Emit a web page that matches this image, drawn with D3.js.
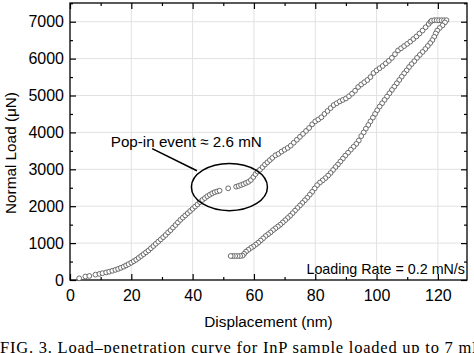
<!DOCTYPE html>
<html><head><meta charset="utf-8">
<script src="https://cdn.jsdelivr.net/npm/d3@7"></script>
<style>
html,body{margin:0;padding:0;background:#fff;}
svg{display:block;}
</style></head>
<body>
<script>
// ---- data ----
const loadDisp = [3.0,5.0,6.3,8.3,9.6,10.6,11.8,12.8,13.8,14.8,15.7,16.6,17.5,18.3,19.1,20.0,20.8,21.6,22.4,23.2,24.0,24.8,25.6,26.4,27.2,28.0,28.8,29.6,30.4,31.2,32.0,32.8,33.6,34.4,35.2,36.0,36.8,37.6,38.4,39.2,40.0,40.8,41.6,42.4,43.2,44.0,44.8,45.6,46.4,47.2,48.0,48.8,51.6,54.2,55.0,55.8,56.6,57.4,58.2,59.0,59.8,60.5,61.2,62.0,62.8,63.6,64.4,65.2,66.0,67,68,69,70,71,72,73,74,75,76,77,78,79,80,81,82,83,84,85,86,87,88,89,90,91,92,93,94,95,96,97,98,99,100,101,102,103,104,105,106,107,108,109,110,111,112,113,114,115,116,117,117.6,118.0,118.8,119.6,120.4,121.2,122.0,122.8];
const loadForce = [45,95,110,145,165,185,205,225,250,275,300,330,360,395,430,470,510,550,600,650,700,750,800,860,920,980,1040,1100,1160,1220,1290,1350,1420,1490,1560,1630,1690,1750,1810,1870,1930,1990,2050,2110,2170,2220,2270,2310,2350,2380,2400,2420,2485,2530,2550,2575,2600,2630,2660,2710,2790,2870,2940,2990,3060,3130,3190,3250,3310,3380,3420,3480,3530,3580,3640,3720,3800,3880,3960,4040,4120,4220,4300,4350,4410,4500,4580,4660,4740,4790,4840,4880,4920,4980,5050,5130,5230,5300,5360,5420,5500,5610,5680,5740,5800,5870,5940,6020,6120,6220,6280,6340,6400,6460,6530,6600,6680,6760,6850,6940,7000,7030,7040,7040,7040,7040,7040,7040];
const unloadDisp = [122.3,121.5,120.6,119.8,119.3,118.8,118.2,117.5,116.7,115.9,115.0,114.1,113.2,112.3,111.4,110.6,109.8,109.0,108.2,107.4,106.6,105.8,105.0,104.2,103.4,102.6,101.8,101.0,100.2,99.5,98.8,98.0,97.3,96.5,95.8,95.0,94.2,93.4,92.5,91.6,90.7,89.8,89.0,88.2,87.4,86.6,85.8,85.0,84.2,83.3,82.4,81.5,80.6,79.8,79.0,78.2,77.4,76.6,75.8,75.0,74.2,73.4,72.6,71.8,71.0,70.2,69.4,68.6,67.8,67.0,66.2,65.4,64.6,63.8,63.0,62.2,61.4,60.6,59.8,59.0,58.2,57.4,56.8,56.3,55.5,54.7,53.9,53.1,52.4];
const unloadForce = [6980,6900,6830,6760,6680,6590,6500,6420,6340,6260,6180,6100,6020,5930,5850,5770,5680,5600,5510,5420,5330,5240,5150,5060,4970,4880,4790,4700,4600,4500,4400,4300,4200,4100,4000,3900,3780,3690,3610,3530,3450,3370,3290,3210,3130,3060,2980,2900,2830,2760,2700,2640,2570,2480,2390,2310,2230,2160,2090,2020,1950,1880,1810,1740,1680,1620,1560,1500,1450,1400,1350,1290,1240,1190,1130,1070,1010,960,910,870,820,770,710,660,650,650,650,650,650];
const xMajor = [0,20,40,60,80,100,120];
const xMinor = [10,30,50,70,90,110,130];
const yMajor = [0,1000,2000,3000,4000,5000,6000,7000];
const yMinor = [500,1500,2500,3500,4500,5500,6500,7500];
const xTitle = "Displacement (nm)";
const yTitle = "Normal Load (μN)";
const annotation = "Pop-in event ≈ 2.6 mN";
const rateNote = "Loading Rate = 0.2 mN/s";
const caption = "FIG. 3. Load–penetration curve for InP sample loaded up to 7 mN";

// ---- layout ----
const W = 474, H = 353;
const L = 70, R = 467, T = 3, B = 280;
const svg = d3.select("body").append("svg").attr("width", W).attr("height", H);
const x = d3.scaleLinear().domain([0, 129.5]).range([L, R]);
const y = d3.scaleLinear().domain([0, 7507]).range([B, T]);
const font = "'Liberation Sans', Arial, sans-serif";

// grid
svg.append("g").selectAll("line").data(xMajor.filter(d => d > 0)).join("line")
  .attr("x1", d => x(d)).attr("x2", d => x(d)).attr("y1", T).attr("y2", B)
  .attr("stroke", "#e2e2e2").attr("stroke-width", 1);
svg.append("g").selectAll("line").data(yMajor.filter(d => d > 0)).join("line")
  .attr("y1", d => y(d)).attr("y2", d => y(d)).attr("x1", L).attr("x2", R)
  .attr("stroke", "#e2e2e2").attr("stroke-width", 1);

function styleAxis(g) {
  g.select(".domain").remove();
  g.selectAll(".tick line").attr("stroke", "#000").attr("stroke-width", 1.2);
  g.selectAll("text").attr("font-family", font).attr("font-size", 16).attr("fill", "#000");
}
// bottom
svg.append("g").attr("transform", `translate(0,${B})`)
  .call(d3.axisBottom(x).tickValues(xMajor).tickSize(-6).tickPadding(10).tickFormat(d3.format("d"))).call(styleAxis);
svg.append("g").attr("transform", `translate(0,${B})`)
  .call(d3.axisBottom(x).tickValues(xMinor.filter(d => d < 129.5)).tickSize(-3).tickFormat("")).call(styleAxis);
// top
svg.append("g").attr("transform", `translate(0,${T})`)
  .call(d3.axisTop(x).tickValues(xMajor).tickSize(-6).tickFormat("")).call(styleAxis);
svg.append("g").attr("transform", `translate(0,${T})`)
  .call(d3.axisTop(x).tickValues(xMinor.filter(d => d < 129.5)).tickSize(-3).tickFormat("")).call(styleAxis);
// left
svg.append("g").attr("transform", `translate(${L},0)`)
  .call(d3.axisLeft(y).tickValues(yMajor).tickSize(-6).tickPadding(6).tickFormat(d3.format("d"))).call(styleAxis);
svg.append("g").attr("transform", `translate(${L},0)`)
  .call(d3.axisLeft(y).tickValues(yMinor.filter(d => d < 7507)).tickSize(-3).tickFormat("")).call(styleAxis);
// right
svg.append("g").attr("transform", `translate(${R},0)`)
  .call(d3.axisRight(y).tickValues(yMajor).tickSize(-6).tickFormat("")).call(styleAxis);
svg.append("g").attr("transform", `translate(${R},0)`)
  .call(d3.axisRight(y).tickValues(yMinor.filter(d => d < 7507)).tickSize(-3).tickFormat("")).call(styleAxis);

// frame
svg.append("rect").attr("x", L).attr("y", T).attr("width", R - L).attr("height", B - T)
  .attr("fill", "none").attr("stroke", "#000").attr("stroke-width", 1.3);

// data
const loadPts = loadDisp.map((d, i) => [d, loadForce[i]]);
const unloadPts = unloadDisp.map((d, i) => [d, unloadForce[i]]);
svg.append("g").selectAll("circle").data(loadPts.concat(unloadPts)).join("circle")
  .attr("cx", d => x(d[0])).attr("cy", d => y(d[1])).attr("r", 2.4)
  .attr("fill", "#fff").attr("stroke", "#5a5a5a").attr("stroke-width", 0.9);

// annotation
svg.append("ellipse").attr("cx", x(52)).attr("cy", y(2520))
  .attr("rx", x(52 + 12.4) - x(52)).attr("ry", y(2520) - y(2520 + 640))
  .attr("fill", "none").attr("stroke", "#000").attr("stroke-width", 1.5);
svg.append("line").attr("x1", x(26.8)).attr("y1", y(3560)).attr("x2", x(41.4)).attr("y2", y(2960))
  .attr("stroke", "#000").attr("stroke-width", 1.6);
svg.append("text").attr("x", x(13.3)).attr("y", y(3600)).text(annotation)
  .attr("font-family", font).attr("font-size", 15.2).attr("fill", "#000");
svg.append("text").attr("x", 465).attr("y", 274).attr("text-anchor", "end").text(rateNote)
  .attr("font-family", font).attr("font-size", 14.3).attr("fill", "#000");

// titles
svg.append("text").attr("x", (L + R) / 2).attr("y", 326.5).attr("text-anchor", "middle").text(xTitle)
  .attr("font-family", font).attr("font-size", 15.3).attr("fill", "#000");
svg.append("text").attr("transform", "translate(15.5,153) rotate(-90)").attr("text-anchor", "middle").text(yTitle)
  .attr("font-family", font).attr("font-size", 15.3).attr("fill", "#000");

// caption (cut off at the bottom, as in the reference)
svg.append("text").attr("x", 0).attr("y", 353).text(caption)
  .attr("font-family", "'Liberation Serif', 'Times New Roman', serif").attr("font-size", 16.5)
  .attr("textLength", 484).attr("lengthAdjust", "spacing").attr("fill", "#000");
</script>
</body></html>
